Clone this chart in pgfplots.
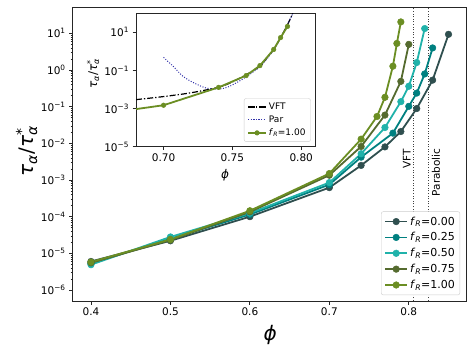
\documentclass[border=0pt]{standalone}
\usepackage{fontspec}
\setmainfont{DejaVu Sans}
\usepackage{pgfplots}
\pgfplotsset{compat=1.18}
\definecolor{c0}{HTML}{2F4F4F}
\definecolor{c1}{HTML}{008080}
\definecolor{c2}{HTML}{20B2AA}
\definecolor{c3}{HTML}{556B2F}
\definecolor{c4}{HTML}{6B8E23}
\definecolor{parc}{HTML}{3333AA}
\newcommand{\taulabel}{\textit{τ}\textsubscript{\textit{α}}/\textit{τ}\rlap{\textsuperscript{*}}\textsubscript{\textit{α}}}
\newcommand{\fR}[1]{\textit{f}\textsubscript{\textit{R}}=#1}
\pgfplotsset{
  mystyle/.style={
    scale only axis,
    tick align=outside, xtick pos=left, ytick pos=left,
    major tick length=3.5pt, minor tick length=2pt,
    tick style={black!85, line width=0.8pt},
    minor tick style={line width=0.6pt},
    axis line style={black!85, line width=0.8pt},
    ticklabel style={font=\fontsize{10.5}{12}\selectfont},
    legend cell align=left,
    legend style={draw=black!20, rounded corners=2pt, fill=white},
  }
}
\begin{document}
\begin{tikzpicture}
\useasboundingbox (0,0) rectangle (474pt,354pt);
\begin{axis}[mystyle,
  at={(72.7pt,53pt)}, anchor=south west,
  width=393.3pt, height=293.7pt,
  xmin=0.377, xmax=0.872, ymode=log, ymin=5.01e-7, ymax=51.3,
  xtick={0.4,0.5,0.6,0.7,0.8}, xticklabels={0.4,0.5,0.6,0.7,0.8},
  ytick={1e-6,1e-5,1e-4,1e-3,1e-2,1e-1,1,10},
  yticklabels={10\textsuperscript{−6},10\textsuperscript{−5},10\textsuperscript{−4},10\textsuperscript{−3},10\textsuperscript{−2},10\textsuperscript{−1},10\textsuperscript{0},10\textsuperscript{1}},
  xlabel={\textit{ϕ}}, ylabel={\taulabel},
  label style={font=\fontsize{20}{24}\selectfont},
  xlabel style={at={(axis description cs:0.502,-0.116)}, anchor=center},
  ylabel style={at={(axis description cs:-0.117,0.51)}, anchor=center},
  legend style={at={(axis description cs:0.985,0.02)}, anchor=south east,
    font=\fontsize{11}{13}\selectfont, row sep=2pt, inner xsep=3pt, inner ysep=3pt},
  legend image code/.code={\draw[mark repeat=2,mark phase=2,#1] plot coordinates {(0pt,0pt) (11pt,0pt) (22pt,0pt)};},
]
\addplot[black!75, line width=0.9pt, dash pattern=on 1pt off 1.6pt, forget plot] coordinates {(0.806,1e-7) (0.806,100)};
\addplot[black!75, line width=0.9pt, dash pattern=on 1pt off 1.6pt, forget plot] coordinates {(0.825,1e-7) (0.825,100)};
\node[rotate=90, anchor=east, font=\fontsize{10.5}{12}\selectfont] at (axis cs:0.7975,8.5e-3) {VFT};
\node[rotate=90, anchor=east, font=\fontsize{10.5}{12}\selectfont] at (axis cs:0.8343,9e-3) {Parabolic};
\addplot[c0, line width=1.8pt, mark=*, mark size=3.3pt, mark options={line width=0.5pt}] coordinates {
(0.4,6.0e-6) (0.5,2.2e-5) (0.6,1.0e-4) (0.7,6.2e-4) (0.74,2.5e-3) (0.77,8e-3) (0.79,2.1e-2) (0.81,8.9e-2) (0.83,0.53) (0.85,9.4)};
\addlegendentry{\fR{0.00}}
\addplot[c1, line width=1.8pt, mark=*, mark size=3.3pt, mark options={line width=0.5pt}] coordinates {
(0.4,5.3e-6) (0.5,2.5e-5) (0.6,1.15e-4) (0.7,7.5e-4) (0.74,4.2e-3) (0.78,1.9e-2) (0.80,0.102) (0.81,0.235) (0.82,0.78) (0.83,4.0)};
\addlegendentry{\fR{0.25}}
\addplot[c2, line width=1.8pt, mark=*, mark size=3.3pt, mark options={line width=0.5pt}] coordinates {
(0.4,4.9e-6) (0.5,2.8e-5) (0.6,1.25e-4) (0.7,8.5e-4) (0.74,5.2e-3) (0.77,2.7e-2) (0.79,0.137) (0.80,0.36) (0.81,1.6) (0.82,13.5)};
\addlegendentry{\fR{0.50}}
\addplot[c3, line width=1.8pt, mark=*, mark size=3.3pt, mark options={line width=0.5pt}] coordinates {
(0.4,5.5e-6) (0.5,2.3e-5) (0.6,1.35e-4) (0.7,1.35e-3) (0.74,8.2e-3) (0.77,5.9e-2) (0.79,0.49) (0.80,5.0)};
\addlegendentry{\fR{0.75}}
\addplot[c4, line width=1.8pt, mark=*, mark size=3.3pt, mark options={line width=0.5pt}] coordinates {
(0.4,5.8e-6) (0.5,2.4e-5) (0.6,1.45e-4) (0.7,1.5e-3) (0.74,1.3e-2) (0.76,5.4e-2) (0.77,0.18) (0.78,1.27) (0.785,5.3) (0.79,20.5)};
\addlegendentry{\fR{1.00}}
\end{axis}
\begin{axis}[mystyle,
  at={(136pt,207.3pt)}, anchor=south west,
  width=179pt, height=133.4pt,
  axis background/.style={fill=white},
  xmin=0.68, xmax=0.81, ymode=log, ymin=1e-5, ymax=100,
  xtick={0.7,0.75,0.8}, xticklabels={0.70,0.75,0.80},
  ytick={1e-5,1e-3,1e-1,10}, yminorticks=false,
  yticklabels={10\textsuperscript{−5},10\textsuperscript{−3},10\textsuperscript{−1},10\textsuperscript{1}},
  xlabel={\textit{ϕ}}, ylabel={\taulabel},
  xlabel style={font=\fontsize{12}{14}\selectfont, at={(axis description cs:0.497,-0.212)}, anchor=center},
  ylabel style={font=\fontsize{12}{14}\selectfont, at={(axis description cs:-0.24,0.55)}, anchor=center},
  legend style={at={(axis description cs:0.976,0.037)}, anchor=south east,
    font=\fontsize{9}{11}\selectfont, row sep=0.8pt, inner xsep=3pt, inner ysep=2.5pt},
  legend image code/.code={\draw[mark repeat=2,mark phase=2,#1] plot coordinates {(0pt,0pt) (9pt,0pt) (18pt,0pt)};},
]
\addplot[black, line width=1.2pt, dash pattern=on 6pt off 2pt on 1.3pt off 2pt, smooth] coordinates {
(0.68,2.95e-3) (0.70,4.27e-3) (0.72,6.76e-3) (0.74,1.32e-2) (0.75,2.51e-2) (0.76,6.03e-2) (0.77,0.166) (0.775,0.447) (0.78,1.26) (0.785,5.25) (0.79,25.1) (0.7945,126)};
\addlegendentry{VFT}
\addplot[parc, line width=1pt, dash pattern=on 1pt off 1.6pt, smooth] coordinates {
(0.70,0.49) (0.7035,0.282) (0.707,0.166) (0.714,0.0501) (0.722,0.0224) (0.731,0.0120) (0.741,0.0107) (0.748,0.0148) (0.758,0.0372) (0.765,0.0832) (0.77,0.158) (0.775,0.398) (0.78,1.20) (0.785,5.0) (0.79,25.1) (0.795,141)};
\addlegendentry{Par}
\addplot[c4, line width=1.8pt, mark=*, mark size=2.3pt, mark options={line width=0.5pt}] coordinates {
(0.4,5.8e-6) (0.5,2.4e-5) (0.6,1.45e-4) (0.7,1.5e-3) (0.74,1.3e-2) (0.76,5.4e-2) (0.77,0.18) (0.78,1.27) (0.785,5.3) (0.79,20.5)};
\addlegendentry{\fR{1.00}}
\end{axis}
\end{tikzpicture}
\end{document}
